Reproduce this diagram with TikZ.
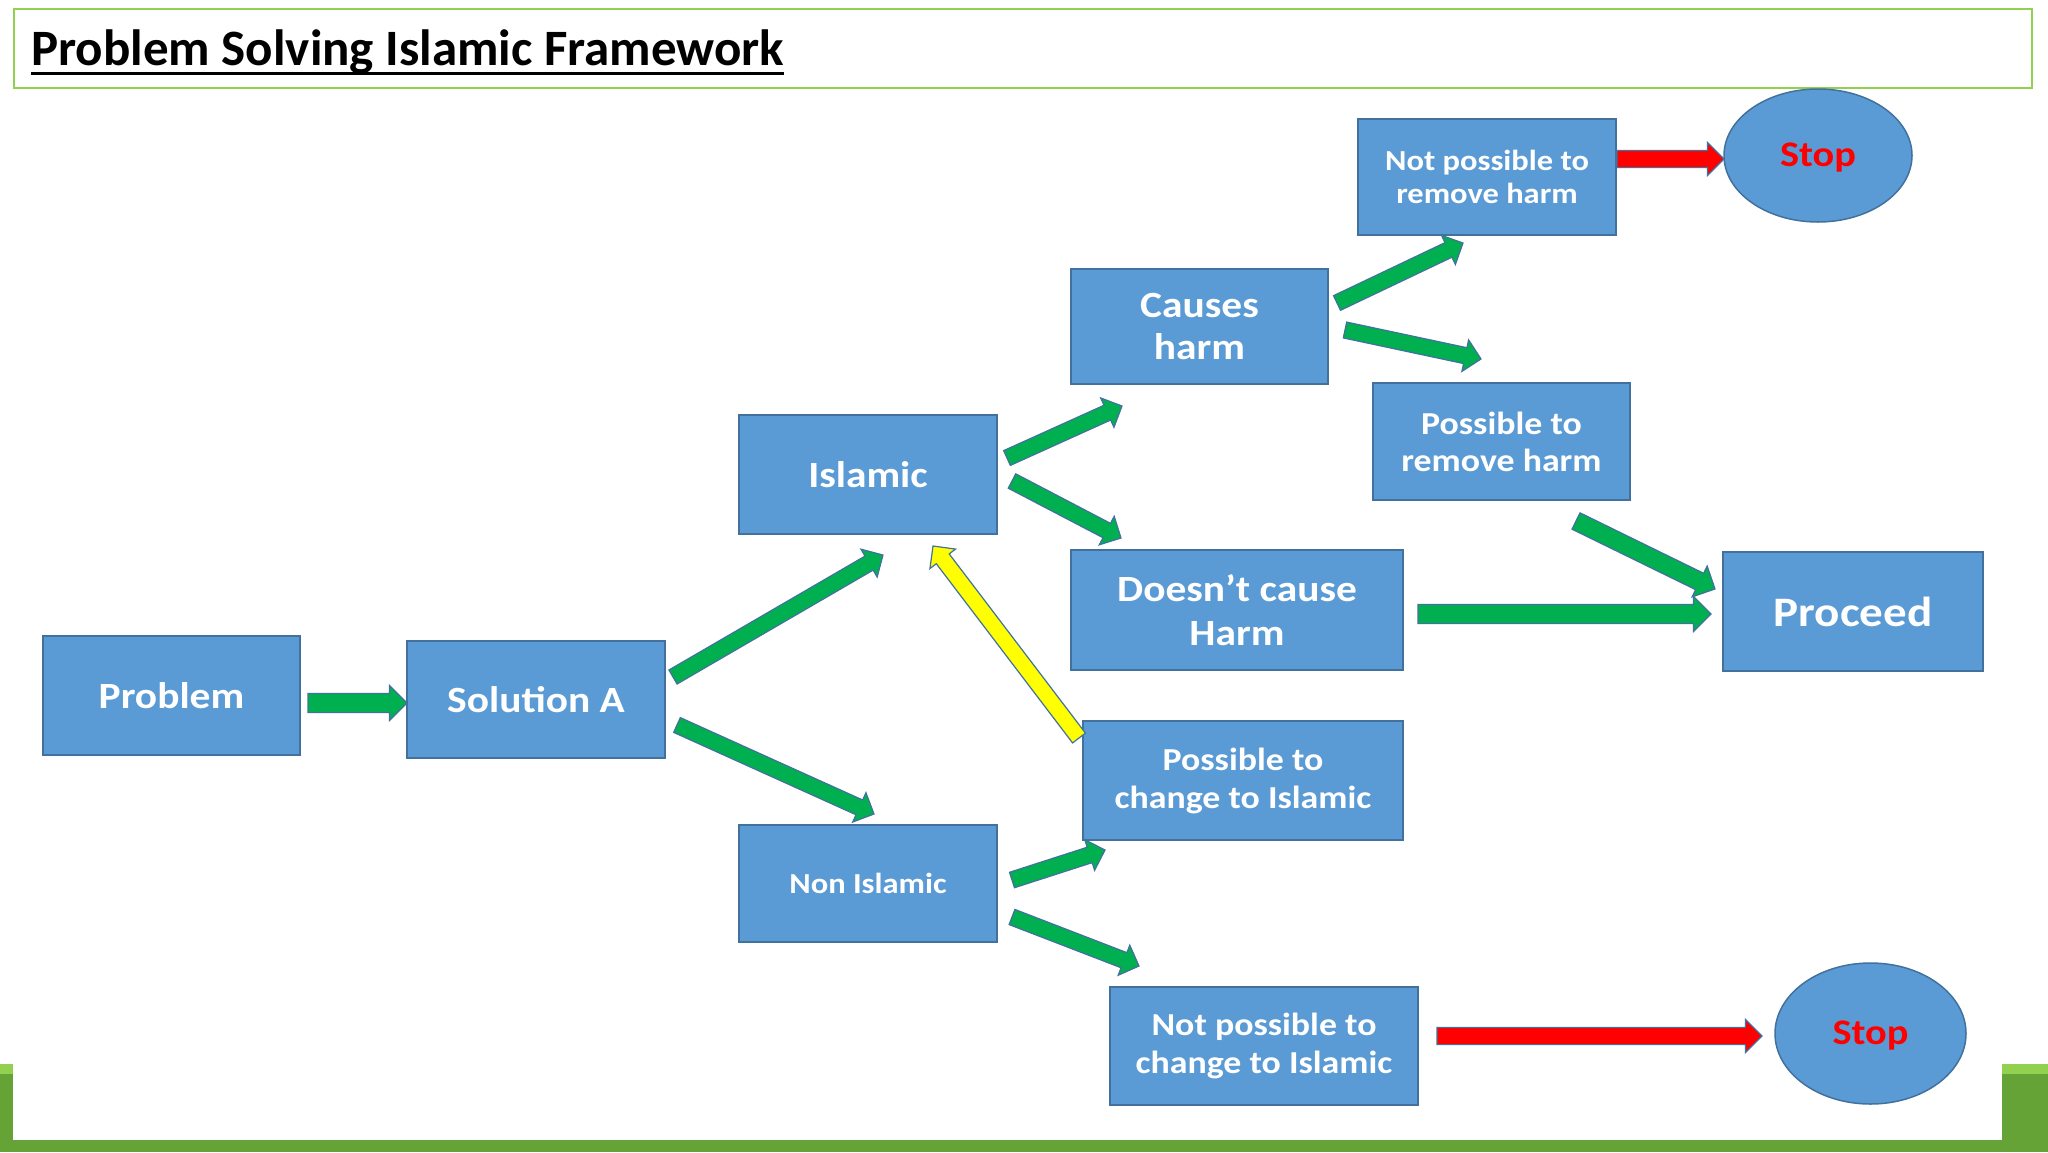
\documentclass[tikz,border=0pt]{standalone}
\usepackage{fontspec}
\setmainfont{Carlito}
\newfontfamily\boxfont[FakeStretch=1.12]{Carlito}
\usetikzlibrary{shapes.arrows,shapes.geometric,calc}
\definecolor{boxfill}{HTML}{5B9BD5}
\definecolor{boxline}{HTML}{41719C}
\definecolor{agreen}{HTML}{00B050}
\definecolor{ayellow}{HTML}{FFFF00}
\definecolor{ared}{HTML}{FF0000}
\definecolor{lgreen}{HTML}{92D050}
\definecolor{dgreen}{HTML}{66A337}
\newcommand\fsz[2]{\fontsize{#1}{#2}\selectfont}
\newcommand\barrow[4][8]{%
  \path let \p1=($(#3)-(#2)$), \n1={atan2(\y1,\x1)}, \n2={veclen(\x1,\y1)} in
    node[blockarrow, inner ysep=#1pt, fill=#4, minimum height=\n2, rotate=\n1, anchor=tail] at (#2) {};}
\tikzset{
  box/.style={draw=boxline, line width=2pt, fill=boxfill, text=white, align=center, inner sep=0pt},
  stopnode/.style={ellipse, draw=boxline, line width=1.5pt, fill=boxfill, text=ared, inner sep=0pt,
    font=\boxfont\bfseries\fsz{36}{40}},
  blockarrow/.style={single arrow, draw=boxline, line width=1.2pt, inner xsep=0pt, outer sep=0pt,
    single arrow head extend=8pt, single arrow tip angle=90, single arrow head indent=0pt},
}
\begin{document}
\begin{tikzpicture}[x=1pt,y=-1pt]
\useasboundingbox (0,0) rectangle (2048,1152);
\fill[white] (0,0) rectangle (2048,1152);
% title
\draw[lgreen, line width=2.5pt] (14,9) rectangle (2032,88);
\node[anchor=base west, inner sep=0pt, font=\bfseries\fsz{51}{56}] (title) at (31,65) {Problem Solving Islamic Framework};
\draw[line width=3pt] ($(title.base west)+(0,8)$) -- ($(title.base east)+(0,8)$);
% bottom decoration
\fill[dgreen] (0,1140) rectangle (2048,1152);
\fill[dgreen] (0,1064) rectangle (13,1152);
\fill[lgreen] (0,1064) rectangle (13,1074);
\fill[dgreen] (2002,1064) rectangle (2048,1152);
\fill[lgreen] (2002,1064) rectangle (2048,1074);
% boxes
\node[box, minimum width=257, minimum height=119, font=\boxfont\bfseries\fsz{37}{42}] (prob) at (171.5,695.5) {Problem};
\node[box, minimum width=258, minimum height=117, font=\boxfont\bfseries\fsz{37}{42}] (sol) at (536,699.5) {Solution A};
\node[box, minimum width=258, minimum height=119, font=\boxfont\bfseries\fsz{37}{42}] (isl) at (868,474.5) {Islamic};
\node[box, minimum width=258, minimum height=117, font=\boxfont\bfseries\fsz{29}{33}] (non) at (868,883.5) {Non Islamic};
\node[box, minimum width=257, minimum height=115, font=\boxfont\bfseries\fsz{37}{42}] (cau) at (1199.5,326.5) {Causes\\harm};
\node[box, minimum width=332, minimum height=120, font=\boxfont\bfseries\fsz{37}{44}] (doe) at (1237,610) {Doesn’t cause\\Harm};
\node[box, minimum width=258, minimum height=116, font=\boxfont\bfseries\fsz{29}{33}] (npr) at (1487,177) {Not possible to\\remove harm};
\node[box, minimum width=257, minimum height=117, font=\boxfont\bfseries\fsz{32}{37}] (pr) at (1501.5,441.5) {Possible to\\remove harm};
\node[box, minimum width=260, minimum height=119, font=\boxfont\bfseries\fsz{42}{46}] (proc) at (1853,611.5) {Proceed};
\node[box, minimum width=320, minimum height=119, font=\boxfont\bfseries\fsz{32}{38}] (pc) at (1243,780.5) {Possible to\\change to Islamic};
\node[box, minimum width=308, minimum height=118, font=\boxfont\bfseries\fsz{32}{38}] (npc) at (1264,1046) {Not possible to\\change to Islamic};
\node[stopnode, minimum width=188, minimum height=133] (stop1) at (1818,155.5) {\raisebox{-11pt}[0pt][0pt]{Stop}};
\node[stopnode, minimum width=191, minimum height=141] (stop2) at (1870.5,1033.5) {\raisebox{-11pt}[0pt][0pt]{Stop}};
% arrow end points
\coordinate (a1s) at (308,703);   \coordinate (a1e) at (407,703);
\coordinate (a2s) at (673,677);   \coordinate (a2e) at (883,555);
\coordinate (a3s) at (677,725);   \coordinate (a3e) at (874,814);
\coordinate (a4s) at (1007,458);  \coordinate (a4e) at (1122,406);
\coordinate (a5s) at (1012,481);  \coordinate (a5e) at (1121,538);
\coordinate (a6s) at (1337,303);  \coordinate (a6e) at (1463,243);
\coordinate (a7s) at (1345,330);  \coordinate (a7e) at (1481,359);
\coordinate (a8s) at (1617,159);  \coordinate (a8e) at (1724,159);
\coordinate (a9s) at (1576,521);  \coordinate (a9e) at (1715,589);
\coordinate (a10s) at (1418,614); \coordinate (a10e) at (1711,614);
\coordinate (a11s) at (1012,880); \coordinate (a11e) at (1105,850);
\coordinate (a12s) at (1012,917); \coordinate (a12e) at (1139,966);
\coordinate (a13s) at (1079,738); \coordinate (a13e) at (933,546);
\coordinate (a14s) at (1437,1036);\coordinate (a14e) at (1762,1036);
% arrows
\barrow[9]{a1s}{a1e}{agreen}
\barrow[7.5]{a2s}{a2e}{agreen}
\barrow[7.5]{a3s}{a3e}{agreen}
\barrow[7.5]{a4s}{a4e}{agreen}
\barrow[7.5]{a5s}{a5e}{agreen}
\barrow[7.5]{a6s}{a6e}{agreen}
\barrow[7.5]{a7s}{a7e}{agreen}
\barrow[8]{a8s}{a8e}{ared}
\barrow[8.5]{a9s}{a9e}{agreen}
\barrow[9]{a10s}{a10e}{agreen}
\barrow[7.5]{a11s}{a11e}{agreen}
\barrow[7.5]{a12s}{a12e}{agreen}
\barrow[7.5]{a13s}{a13e}{ayellow}
\barrow[8]{a14s}{a14e}{ared}
\end{tikzpicture}
\end{document}
